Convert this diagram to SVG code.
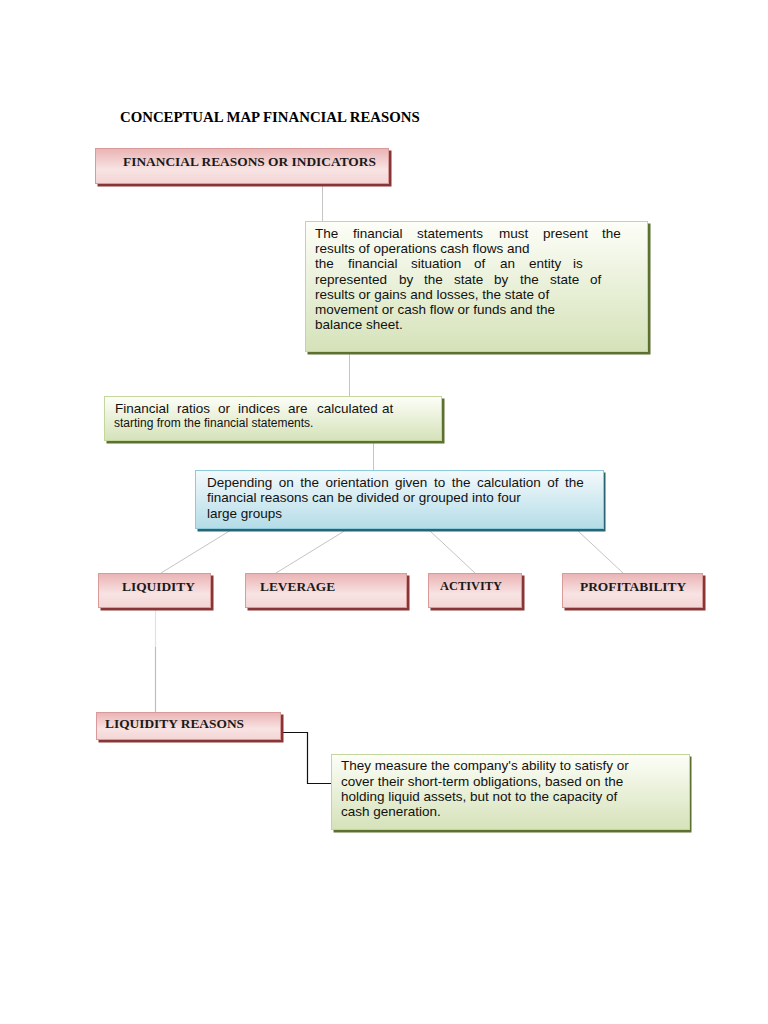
<svg xmlns="http://www.w3.org/2000/svg" width="768" height="1024" viewBox="0 0 768 1024">
<defs>
<linearGradient id="gPink" x1="0" y1="0" x2="0" y2="1">
<stop offset="0" stop-color="#eab3b4"/>
<stop offset="0.6" stop-color="#f8e3e3"/>
<stop offset="1" stop-color="#f4d5d5"/>
</linearGradient>
<linearGradient id="gGreen" x1="0" y1="0" x2="0" y2="1">
<stop offset="0" stop-color="#fdfef8"/>
<stop offset="1" stop-color="#d5e2b9"/>
</linearGradient>
<linearGradient id="gBlue" x1="0" y1="0" x2="0" y2="1">
<stop offset="0" stop-color="#f4fafc"/>
<stop offset="1" stop-color="#b4dce7"/>
</linearGradient>
</defs>
<style>
.title{font-family:"Liberation Serif","Times New Roman",serif;font-weight:bold;font-size:14.8px;fill:#000}
.lbl{font-family:"Liberation Serif","Times New Roman",serif;font-weight:bold;font-size:13.4px;fill:#1a1a1a}
.txt{font-family:"Liberation Sans",Arial,sans-serif;font-size:13.5px;fill:#111}
.sm{font-family:"Liberation Sans",Arial,sans-serif;font-size:12px;fill:#111}
.pink{fill:url(#gPink);stroke:#d99a9a;stroke-width:1}
.pinkS{fill:#8a3535}
.green{fill:url(#gGreen);stroke:#c3d69b;stroke-width:1}
.greenS{fill:#5c7030}
.blue{fill:url(#gBlue);stroke:#8ccbdb;stroke-width:1}
.blueS{fill:#2a6373}
.conn{stroke:#c4c4c4;stroke-width:1;fill:none}
</style>
<rect width="768" height="1024" fill="#ffffff"/>
<text class="title" x="120" y="122">CONCEPTUAL MAP FINANCIAL REASONS</text>

<g id="connectors">
<line class="conn" x1="322.5" y1="185" x2="322.5" y2="221"/>
<line class="conn" x1="349.5" y1="353" x2="349.5" y2="396"/>
<line class="conn" x1="373.5" y1="442" x2="373.5" y2="470"/>
<line class="conn" x1="231" y1="530" x2="161" y2="573"/>
<line class="conn" x1="346" y1="530" x2="276" y2="573"/>
<line class="conn" x1="429" y1="530" x2="475" y2="573"/>
<line class="conn" x1="577" y1="530" x2="623" y2="573"/>
<line x1="155.5" y1="609" x2="155.5" y2="647" stroke="#e2e2e2" stroke-width="1.2"/>
<line x1="155.5" y1="647" x2="155.5" y2="712" stroke="#bdbdbd" stroke-width="1.2"/>
<polyline points="283,732.5 307.5,732.5 307.5,783.5 331,783.5" fill="none" stroke="#111" stroke-width="1.2"/>
</g>

<g id="node-indicators">
<rect class="pinkS" x="97.5" y="150.5" width="294" height="36"/>
<rect class="pink" x="95.5" y="148.5" width="293" height="35"/>
<text class="lbl" x="123" y="166">FINANCIAL REASONS OR INDICATORS</text>
</g>

<g id="node-statements">
<rect class="greenS" x="307.5" y="223.5" width="343" height="131"/>
<rect class="green" x="305.5" y="221.5" width="342" height="130"/>
<text class="txt" y="238"><tspan x="315">The</tspan><tspan x="353">financial</tspan><tspan x="417">statements</tspan><tspan x="499">must</tspan><tspan x="543">present</tspan><tspan x="602">the</tspan></text>
<text class="txt" x="315" y="253">results of operations cash flows and</text>
<text class="txt" y="268"><tspan x="315">the</tspan><tspan x="348">financial</tspan><tspan x="411">situation</tspan><tspan x="474">of</tspan><tspan x="500">an</tspan><tspan x="529">entity</tspan><tspan x="573">is</tspan></text>
<text class="txt" y="284"><tspan x="315">represented</tspan><tspan x="399">by</tspan><tspan x="424">the</tspan><tspan x="454">state</tspan><tspan x="494">by</tspan><tspan x="520">the</tspan><tspan x="550">state</tspan><tspan x="590">of</tspan></text>
<text class="txt" x="315" y="299">results or gains and losses, the state of</text>
<text class="txt" x="315" y="314">movement or cash flow or funds and the</text>
<text class="txt" x="315" y="329">balance sheet.</text>
</g>

<g id="node-ratios">
<rect class="greenS" x="106.5" y="398.5" width="338" height="45"/>
<rect class="green" x="104.5" y="396.5" width="337" height="44"/>
<text class="txt" y="413"><tspan x="115">Financial</tspan><tspan x="177">ratios</tspan><tspan x="218">or</tspan><tspan x="238">indices</tspan><tspan x="288">are</tspan><tspan x="317">calculated</tspan><tspan x="382">at</tspan></text>
<text class="sm" x="114" y="426.5">starting from the financial statements.</text>
</g>

<g id="node-groups">
<rect class="blueS" x="197.5" y="472.5" width="408" height="59"/>
<rect class="blue" x="195.5" y="470.5" width="408" height="58"/>
<text class="txt" y="487"><tspan x="207">Depending</tspan><tspan x="278.8">on</tspan><tspan x="300.3">the</tspan><tspan x="325.6">orientation</tspan><tspan x="395.1">given</tspan><tspan x="433.9">to</tspan><tspan x="451.7">the</tspan><tspan x="477">calculation</tspan><tspan x="547.3">of</tspan><tspan x="565.1">the</tspan></text>
<text class="txt" x="207" y="502">financial reasons can be divided or grouped into four</text>
<text class="txt" x="207" y="517.5">large groups</text>
</g>

<g id="node-liquidity">
<rect class="pinkS" x="100.5" y="575.5" width="113" height="35"/>
<rect class="pink" x="98.5" y="573.5" width="112" height="34"/>
<text class="lbl" x="122" y="591">LIQUIDITY</text>
</g>

<g id="node-leverage">
<rect class="pinkS" x="247.5" y="575.5" width="162" height="35"/>
<rect class="pink" x="245.5" y="573.5" width="161" height="34"/>
<text class="lbl" x="260" y="591">LEVERAGE</text>
</g>

<g id="node-activity">
<rect class="pinkS" x="430.5" y="575.5" width="94" height="35"/>
<rect class="pink" x="428.5" y="573.5" width="93" height="34"/>
<text class="lbl" x="440" y="589.5" style="font-size:12.4px">ACTIVITY</text>
</g>

<g id="node-profitability">
<rect class="pinkS" x="564.5" y="575.5" width="141" height="35"/>
<rect class="pink" x="562.5" y="573.5" width="140" height="34"/>
<text class="lbl" x="580" y="591">PROFITABILITY</text>
</g>

<g id="node-liquidity-reasons">
<rect class="pinkS" x="98.5" y="714.5" width="185" height="28"/>
<rect class="pink" x="96.5" y="712.5" width="184" height="27"/>
<text class="lbl" x="105" y="727.5">LIQUIDITY REASONS</text>
</g>

<g id="node-liquidity-def">
<rect class="greenS" x="333.5" y="756.5" width="358" height="76"/>
<rect class="green" x="331.5" y="754.5" width="358" height="75"/>
<text class="txt" x="341" y="770">They measure the company's ability to satisfy or</text>
<text class="txt" x="341" y="785.5">cover their short-term obligations, based on the</text>
<text class="txt" x="341" y="801">holding liquid assets, but not to the capacity of</text>
<text class="txt" x="341" y="816">cash generation.</text>
</g>
</svg>
